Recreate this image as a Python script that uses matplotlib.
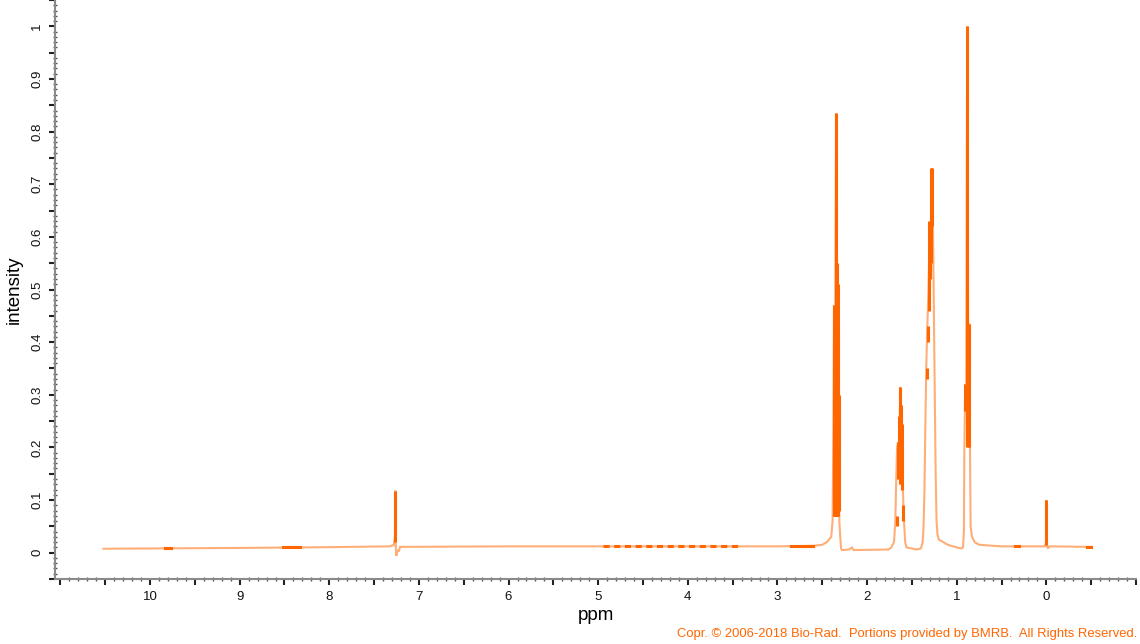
import numpy as np
import matplotlib
matplotlib.use("Agg")
import matplotlib.pyplot as plt
from matplotlib.ticker import MultipleLocator, FuncFormatter

plt.rcParams['font.family'] = ['Liberation Sans', 'DejaVu Sans']

# ---- data ----
trace_ppm = [10.52, 9.0, 8.0, 7.32, 7.28, 7.268, 7.263, 7.258, 7.252, 7.24, 7.225, 7.21,
             6.0, 3.0, 2.6, 2.5, 2.45, 2.40, 2.385, 2.375, 2.369, 2.36, 2.346, 2.335, 2.324,
             2.31, 2.30, 2.29, 2.28, 2.20, 2.17, 2.15, 1.76, 1.73, 1.70, 1.685, 1.675, 1.665,
             1.655, 1.645, 1.63, 1.62, 1.61, 1.60, 1.595, 1.585, 1.575, 1.56, 1.50, 1.45, 1.40,
             1.38, 1.37, 1.36, 1.35, 1.34, 1.33, 1.315, 1.30, 1.29, 1.275, 1.265, 1.255, 1.245,
             1.235, 1.225, 1.215, 1.20, 1.15, 1.10, 1.00, 0.95, 0.93, 0.92, 0.915, 0.905, 0.895,
             0.883, 0.87, 0.86, 0.85, 0.845, 0.83, 0.80, 0.75, 0.50, 0.02, 0.01, 0.003, 0.0,
             -0.005, -0.02, -0.03, -0.5]
trace_int = [0.0075, 0.009, 0.0105, 0.012, 0.015, 0.03, 0.118, 0.01, -0.006, 0.005, 0.002, 0.011,
             0.012, 0.012, 0.013, 0.015, 0.02, 0.03, 0.06, 0.25, 0.47, 0.28, 0.835, 0.28, 0.51,
             0.06, 0.03, 0.008, 0.005, 0.006, 0.01, 0.005, 0.006, 0.01, 0.02, 0.06, 0.14, 0.20,
             0.21, 0.15, 0.315, 0.16, 0.245, 0.12, 0.09, 0.05, 0.02, 0.01, 0.008, 0.006, 0.008,
             0.02, 0.05, 0.12, 0.24, 0.35, 0.42, 0.50, 0.625, 0.56, 0.73, 0.62, 0.46, 0.30,
             0.15, 0.06, 0.035, 0.025, 0.02, 0.015, 0.01, 0.008, 0.01, 0.04, 0.20, 0.32, 0.27,
             1.0, 0.30, 0.435, 0.15, 0.05, 0.03, 0.02, 0.015, 0.012, 0.012, 0.015, 0.02, 0.10,
             0.012, 0.008, 0.012, 0.011]

# highlighted (dark) peak lines: position, lower end, upper end
stick_ppm = [7.263,
             2.372, 2.369, 2.364, 2.358, 2.352, 2.346, 2.340, 2.335, 2.330, 2.324, 2.319,
             1.665, 1.655, 1.645, 1.633, 1.622, 1.612, 1.598,
             1.335, 1.325, 1.31, 1.30, 1.285, 1.278,
             0.905, 0.898, 0.883, 0.875, 0.862,
             0.0]
stick_lo = [0.02,
            0.10, 0.07, 0.07, 0.07, 0.07, 0.07, 0.07, 0.07, 0.07, 0.07, 0.08,
            0.05, 0.14, 0.14, 0.13, 0.13, 0.12, 0.06,
            0.33, 0.40, 0.46, 0.52, 0.55, 0.62,
            0.27, 0.27, 0.20, 0.20, 0.20,
            0.015]
stick_hi = [0.118,
            0.30, 0.47, 0.40, 0.45, 0.55, 0.835, 0.55, 0.45, 0.42, 0.51, 0.30,
            0.07, 0.21, 0.26, 0.315, 0.28, 0.245, 0.09,
            0.35, 0.43, 0.63, 0.625, 0.73, 0.73,
            0.32, 0.30, 1.0, 0.43, 0.435,
            0.10]

# highlighted baseline stretches: start, end, level
seg_start = [9.83, 8.52, 4.95, 2.85, 0.35, -0.45]
seg_end = [9.77, 8.33, 3.40, 2.60, 0.30, -0.50]
seg_level = [0.009, 0.011, 0.012, 0.013, 0.012, 0.010]
seg_dashed = [False, False, True, False, False, False]

x_tick_labels = [10, 9, 8, 7, 6, 5, 4, 3, 2, 1, 0]
x_label = "ppm"
y_label = "intensity"
credit = "Copr. \u00a9 2006-2018 Bio-Rad.  Portions provided by BMRB.  All Rights Reserved."

LIGHT = "#FFAE78"
DARK = "#FF6600"

fig = plt.figure(figsize=(11.4, 6.44), dpi=100)
ax = fig.add_axes([55 / 1140, 65 / 644, (1136 - 55) / 1140, 579 / 644])

ax.plot(trace_ppm, trace_int, color=LIGHT, lw=1.5, solid_joinstyle='miter', zorder=2)
ax.vlines(stick_ppm, stick_lo, stick_hi, color=DARK, lw=2.2, zorder=3)
for s, e, lv, d in zip(seg_start, seg_end, seg_level, seg_dashed):
    ax.plot([s, e], [lv, lv], color=DARK, lw=2.2,
            ls=(0, (2, 1.5)) if d else '-', zorder=3)

ax.set_xlim(11.06, -1.0)
ax.set_ylim(-0.05, 1.05)

for sp in ['top', 'right']:
    ax.spines[sp].set_visible(False)
for sp in ['left', 'bottom']:
    ax.spines[sp].set_color('#8a8a8a')
    ax.spines[sp].set_linewidth(1.5)

ax.xaxis.set_major_locator(MultipleLocator(0.5))
ax.xaxis.set_minor_locator(MultipleLocator(0.1))
ax.yaxis.set_major_locator(MultipleLocator(0.05))
ax.yaxis.set_minor_locator(MultipleLocator(0.01))

def xfmt(v, pos):
    for t in x_tick_labels:
        if abs(v - t) < 1e-6:
            return f"{t}"
    return ""

def yfmt(v, pos):
    k = round(v * 20)
    if k % 2 == 0 and k >= 0:
        return f"{v:.1f}".rstrip('0').rstrip('.') if k != 0 else "0"
    return ""

ax.xaxis.set_major_formatter(FuncFormatter(xfmt))
ax.yaxis.set_major_formatter(FuncFormatter(yfmt))

ax.tick_params(axis='both', which='major', direction='out', length=4.5, width=1.5,
               color='#222222', labelsize=9.5, labelcolor='#111111')
ax.tick_params(axis='both', which='minor', direction='inout', length=2.5, width=1.0,
               color='#555555')
ax.tick_params(axis='x', which='major', pad=4)
ax.tick_params(axis='y', which='major', pad=4, labelrotation=90)
for lab in ax.get_yticklabels():
    lab.set_va('center')

ax.set_xlabel(x_label, fontsize=13.5, labelpad=3)
ax.set_ylabel(y_label, fontsize=13.5, labelpad=6)

fig.text(1137 / 1140, 4 / 644, credit, ha='right', va='bottom', fontsize=9.4, color=DARK)

fig.savefig("out.png", dpi=100)
